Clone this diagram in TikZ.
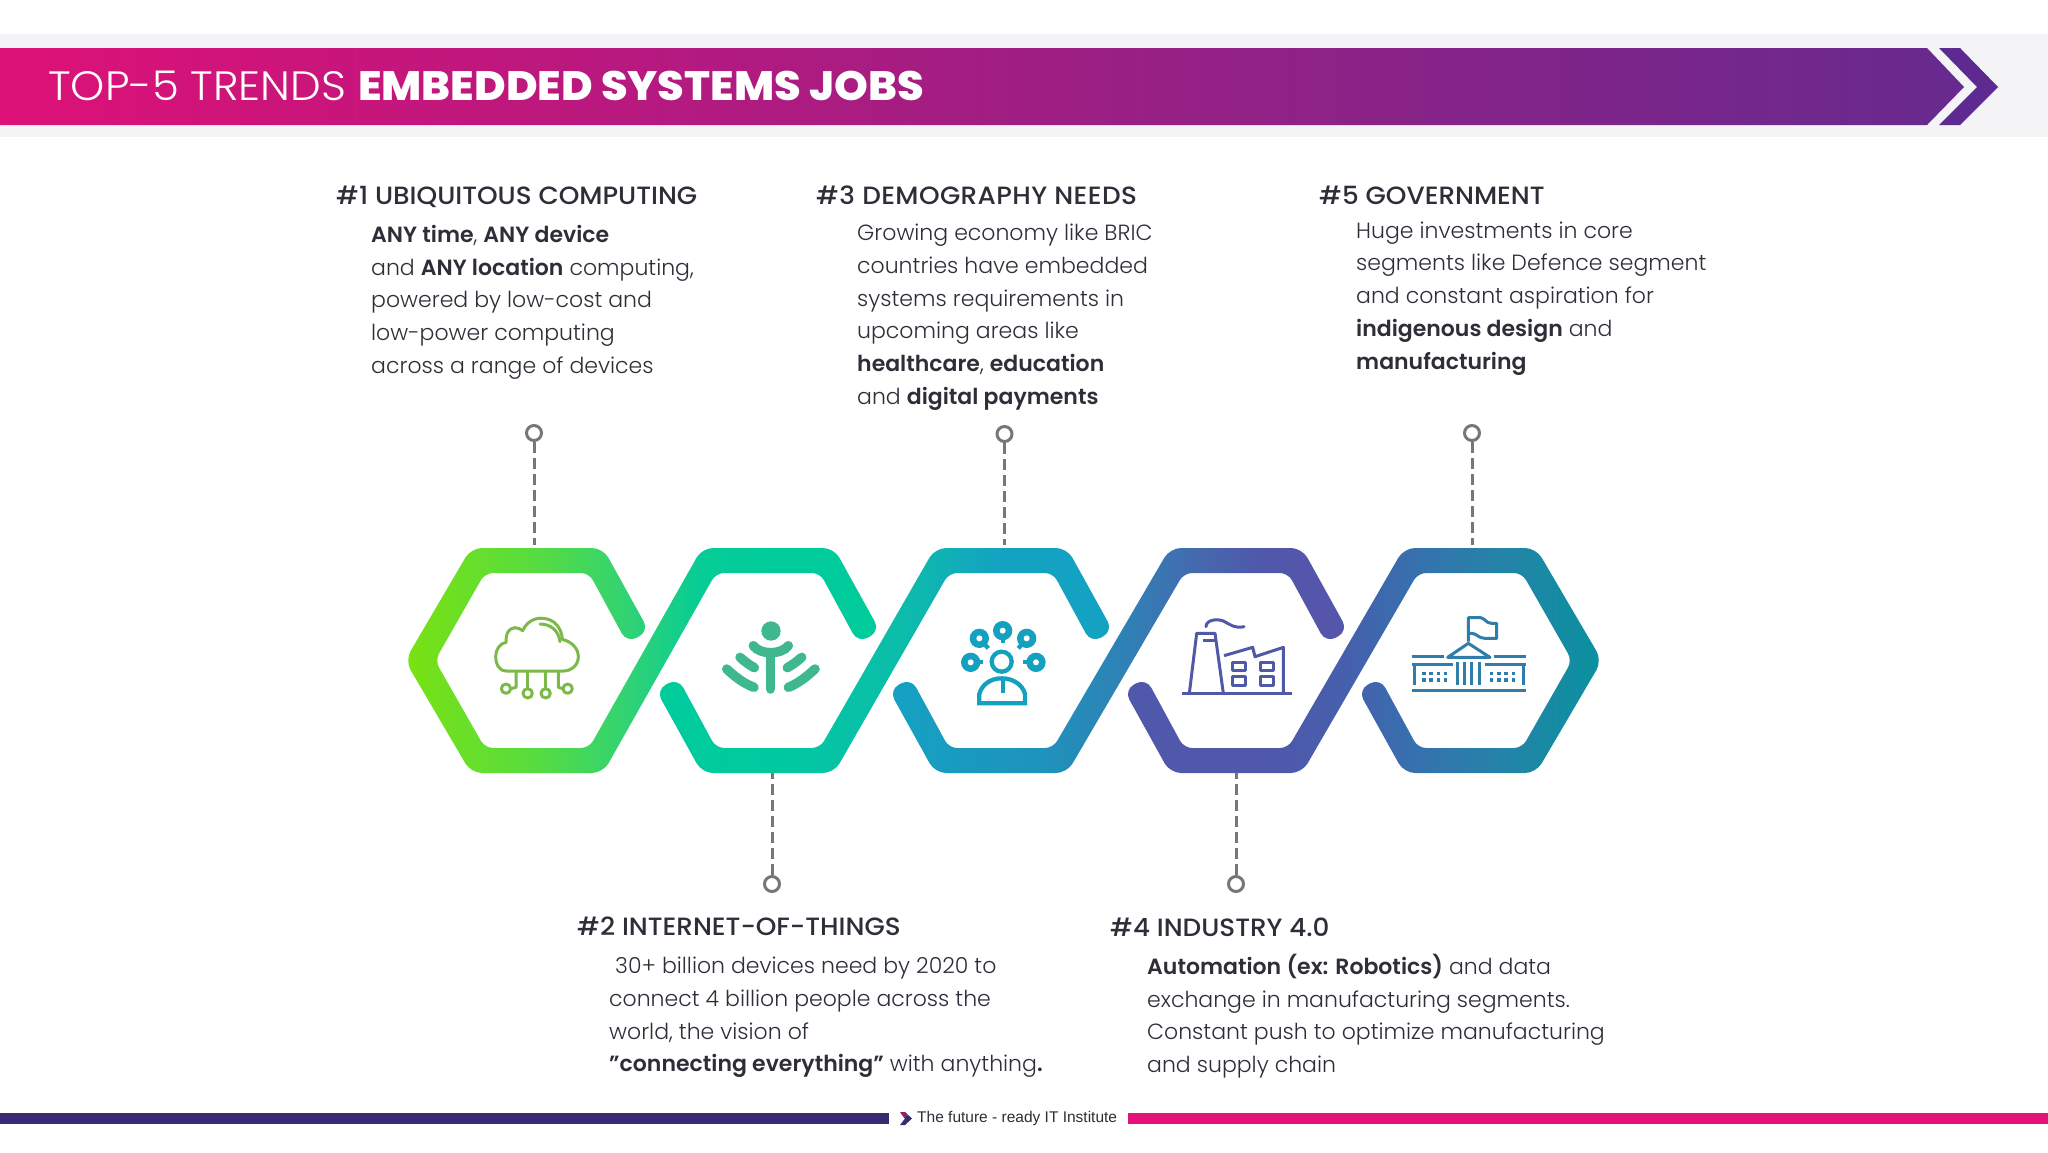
\documentclass[tikz,border=0pt]{standalone}
\usepackage{fontspec}
\setmainfont{Poppins Light}[BoldFont={Poppins SemiBold},FakeStretch=1.0]
\newfontfamily\headfont{Poppins Medium}[FakeStretch=1.05]
\newfontfamily\titlelight{Poppins Light}[FakeStretch=1.06]
\newfontfamily\titlebold{Poppins ExtraBold}[FakeStretch=1.05]
\newfontfamily\footfont{Liberation Sans}
\definecolor{greenA}{HTML}{7AE210}\definecolor{greenB}{HTML}{58DC40}\definecolor{greenC}{HTML}{2FD276}
\definecolor{tealA}{HTML}{07CC96}\definecolor{tealB}{HTML}{00CC9B}\definecolor{tealC}{HTML}{00C9A0}\definecolor{tealD}{HTML}{0CBDAA}
\definecolor{blueA}{HTML}{14A2C3}\definecolor{blueB}{HTML}{1E93BC}\definecolor{blueC}{HTML}{3080B5}\definecolor{blueD}{HTML}{4668AE}
\definecolor{violetA}{HTML}{5058AB}\definecolor{violetB}{HTML}{5555AB}\definecolor{violetC}{HTML}{4560AD}
\definecolor{steelA}{HTML}{3572AE}\definecolor{steelB}{HTML}{2583A8}\definecolor{steelC}{HTML}{0A919F}
\definecolor{inkdark}{HTML}{2E2E38}\definecolor{linegray}{HTML}{77777B}
\definecolor{stripgray}{HTML}{F4F3F5}
\definecolor{pinkA}{HTML}{DD1177}\definecolor{plumA}{HTML}{A31C80}\definecolor{plumB}{HTML}{672A8E}\definecolor{plumC}{HTML}{5C2A90}
\definecolor{navybar}{HTML}{3A2A72}\definecolor{pinkbar}{HTML}{E5127A}\definecolor{chevred}{HTML}{8E1F6C}
\definecolor{icongreen}{HTML}{7CB84A}\definecolor{iconteal}{HTML}{3FB890}\definecolor{iconblue}{HTML}{14A0BF}\definecolor{iconviolet}{HTML}{5058A8}\definecolor{iconsteel}{HTML}{2E7DAB}
\pgfdeclarehorizontalshading{pieceA}{100bp}{color(0bp)=(greenA);color(35bp)=(greenA);color(38.35bp)=(greenB);color(40.8bp)=(greenC);color(42.5bp)=(tealA);color(44.25bp)=(tealB);color(100bp)=(tealB)}
\pgfdeclarehorizontalshading{pieceB}{100bp}{color(0bp)=(tealB);color(41.5bp)=(tealB);color(44.5bp)=(tealC);color(47.5bp)=(tealD);color(50bp)=(blueA);color(100bp)=(blueA)}
\pgfdeclarehorizontalshading{pieceC}{100bp}{color(0bp)=(blueA);color(47.25bp)=(blueA);color(51bp)=(blueB);color(53.25bp)=(blueC);color(55bp)=(blueD);color(56.5bp)=(violetA);color(58bp)=(violetB);color(100bp)=(violetB)}
\pgfdeclarehorizontalshading{pieceD}{100bp}{color(0bp)=(violetA);color(56.75bp)=(violetA);color(58.75bp)=(violetC);color(60.5bp)=(steelA);color(62.5bp)=(steelB);color(65bp)=(steelC);color(100bp)=(steelC)}
\tikzset{
  headtxt/.style={font=\headfont\fontsize{25}{30}\selectfont,text=inkdark,anchor=base west,inner sep=0pt},
  bodytxt/.style={font=\fontsize{22}{32.7}\selectfont,text=inkdark,anchor=north west,align=left,inner sep=0pt},
  dotnode/.style={circle,draw=linegray,line width=3pt,fill=white,minimum size=15pt,inner sep=0pt},
  leader/.style={draw=linegray,line width=3pt,dash pattern=on 11pt off 5pt},
  iconline/.style={line width=3pt,line join=round},
  zoomat/.style={shift={(#1)},x=0.33333pt,y=-0.33333pt},
}
\def\cA{537}\def\cB{768}\def\cC{1001}\def\cD{1236}\def\cE{1470}
\def\ro{11}\def\ri{8}
\def\ao{66}\def\ai{52}\def\vo{132}\def\vi{102}
\begin{document}
\begin{tikzpicture}[x=1pt,y=-1pt]
\useasboundingbox (0,0) rectangle (2048,1152);
\fill[white] (0,0) rectangle (2048,1152);
% header
\fill[stripgray] (0,34) rectangle (2048,137);
\shade[left color=pinkA,middle color=plumA,right color=plumB] (0,48) -- (1927,48) -- (1964,87) -- (1927,125) -- (0,125) -- cycle;
\fill[plumC] (1939,48) -- (1960,48) -- (1998,87) -- (1960,125) -- (1939,125) -- (1977,87) -- cycle;
\node[anchor=west,inner sep=0pt,text=white,font=\fontsize{41}{48}\selectfont] (title) at (48,86) {{\titlelight TOP-5 TRENDS }{\titlebold EMBEDDED SYSTEMS JOBS}};
% ribbon pieces
\begin{scope}
\clip (\cA,548) [rounded corners=\ro pt] -- (\cA+\ao,548) -- (\cA+112,631) -- (\cA+90,643) [rounded corners=\ri pt] -- (\cA+\ai,573) -- (\cA-\ai,573) -- (\cA-\vi,660.5) -- (\cA-\ai,748) -- (\cA+\ai,748) [rounded corners=\ro pt] -- (\cB-\ao,548) -- (\cB+\ao,548) -- (\cB+112,631) -- (\cB+90,643) [rounded corners=\ri pt] -- (\cB+\ai,573) -- (\cB-\ai,573) [rounded corners=\ro pt] -- (\cA+\ao,773) -- (\cA-\ao,773) -- (\cA-\vo,660.5) -- (\cA-\ao,548) -- cycle;
\shade[shading=pieceA] (0,500) rectangle (2000,800);
\end{scope}
\begin{scope}
\clip (\cB,773) [rounded corners=\ro pt] -- (\cB+\ao,773) [rounded corners=\ri pt] -- (\cC-\ai,573) -- (\cC+\ai,573) [rounded corners=\ro pt] -- (\cC+90,643) -- (\cC+112,631) -- (\cC+\ao,548) -- (\cC-\ao,548) [rounded corners=\ri pt] -- (\cB+\ai,748) -- (\cB-\ai,748) [rounded corners=\ro pt] -- (\cB-90,678) -- (\cB-112,690) -- (\cB-\ao,773) -- cycle;
\shade[shading=pieceB] (0,500) rectangle (2000,800);
\end{scope}
\begin{scope}
\clip (\cC,773) [rounded corners=\ro pt] -- (\cC+\ao,773) [rounded corners=\ri pt] -- (\cD-\ai,573) -- (\cD+\ai,573) [rounded corners=\ro pt] -- (\cD+90,643) -- (\cD+112,631) -- (\cD+\ao,548) -- (\cD-\ao,548) [rounded corners=\ri pt] -- (\cC+\ai,748) -- (\cC-\ai,748) [rounded corners=\ro pt] -- (\cC-90,678) -- (\cC-112,690) -- (\cC-\ao,773) -- cycle;
\shade[shading=pieceC] (0,500) rectangle (2000,800);
\end{scope}
\begin{scope}
\clip (\cD,773) [rounded corners=\ro pt] -- (\cD+\ao,773) [rounded corners=\ri pt] -- (\cE-\ai,573) -- (\cE+\ai,573) -- (\cE+\vi,660.5) -- (\cE+\ai,748) -- (\cE-\ai,748) [rounded corners=\ro pt] -- (\cE-90,678) -- (\cE-112,690) -- (\cE-\ao,773) -- (\cE+\ao,773) -- (\cE+\vo,660.5) -- (\cE+\ao,548) -- (\cE-\ao,548) [rounded corners=\ri pt] -- (\cD+\ai,748) -- (\cD-\ai,748) [rounded corners=\ro pt] -- (\cD-90,678) -- (\cD-112,690) -- (\cD-\ao,773) -- cycle;
\shade[shading=pieceD] (0,500) rectangle (2000,800);
\end{scope}
% leaders
\coordinate (hextopA) at (534,545);
\coordinate (hexbotB) at (772,773);
\coordinate (hextopC) at (1004.5,545);
\coordinate (hexbotD) at (1236,773);
\coordinate (hextopE) at (1472,545);
\node[dotnode] (dotA) at (534,433) {};
\node[dotnode] (dotB) at (772,884) {};
\node[dotnode] (dotC) at (1004.5,434) {};
\node[dotnode] (dotD) at (1236,884) {};
\node[dotnode] (dotE) at (1472,433) {};
\path[leader] (dotA) -- (hextopA);
\path[leader] (dotB) -- (hexbotB);
\path[leader] (dotC) -- (hextopC);
\path[leader] (dotD) -- (hexbotD);
\path[leader] (dotE) -- (hextopE);
% cloud icon
\begin{scope}[zoomat={480,600},icongreen,iconline]
\draw (80,213) .. controls (55,213) and (47,190) .. (47,170) .. controls (47,148) and (60,130) .. (78,127) .. controls (78,100) and (85,85) .. (105,83) .. controls (115,83) and (122,88) .. (128,92) .. controls (140,65) and (165,52) .. (190,55) .. controls (225,58) and (245,85) .. (247,118) .. controls (275,125) and (295,145) .. (295,170) .. controls (295,195) and (275,213) .. (250,213) -- cycle;
\draw[line cap=round] (180,72) .. controls (212,72) and (236,92) .. (240,125);
\draw (108,213) -- (108,262) -- (92,266);
\draw (143,213) -- (143,266);
\draw (197,213) -- (197,266);
\draw (235,213) -- (235,262) -- (249,266);
\draw (78,266) circle[radius=14];
\draw (143,280) circle[radius=14];
\draw (197,280) circle[radius=14];
\draw (263,266) circle[radius=14];
\end{scope}
% network person icon
\begin{scope}[zoomat={700,600},iconteal,line width=9.5pt,line cap=round]
\fill (213,93) circle[radius=29];
\draw (160,137) .. controls (180,165) and (245,165) .. (265,137);
\draw (211,165) -- (211,267);
\draw (120,172) .. controls (135,185) and (148,195) .. (163,203);
\draw (305,172) .. controls (290,185) and (277,195) .. (262,203);
\draw (80,207) .. controls (105,230) and (130,250) .. (162,262);
\draw (345,207) .. controls (320,230) and (295,250) .. (265,262);
\end{scope}
% head with satellites icon
\begin{scope}[zoomat={940,610},iconblue,line width=4.3pt]
\draw (185,155) circle[radius=30];
\draw (118,280) -- (118,252) .. controls (125,225) and (150,205) .. (185,205) .. controls (220,205) and (248,225) .. (255,252) -- (255,280) -- cycle;
\draw (188,210) -- (188,250);
\foreach \kx/\ky/\ex/\ey in {92/157/130/157,188/62/188/100,118/85/145/115,260/85/235/115,288/157/250/157}{
  \draw (\kx,\ky) -- (\ex,\ey);
  \fill (\kx,\ky) circle[radius=29];
  \fill[white] (\kx,\ky) circle[radius=9];
}
\end{scope}
% factory icon
\begin{scope}[zoomat={1170,605},iconviolet,iconline]
\draw[line cap=round] (108,65) .. controls (108,45) and (140,40) .. (160,48) .. controls (180,58) and (195,72) .. (222,65);
\draw (58,265) -- (80,85) -- (135,85) -- (160,265);
\draw (100,105) -- (135,105);
\draw (35,265) -- (365,265);
\draw (162,152) -- (248,127) -- (255,155) -- (340,127) -- (340,265);
\foreach \wx/\wy in {188/172,272/172,188/215,272/215}{\draw (\wx,\wy) rectangle ++(38,25);}
\end{scope}
% government building icon
\begin{scope}[zoomat={1400,605},iconsteel,iconline]
\draw (205,110) -- (205,38) -- (242,38) .. controls (255,40) and (258,55) .. (275,55) -- (290,55) -- (290,100) -- (255,100) .. controls (235,100) and (230,85) .. (215,85) -- (205,85);
\draw (143,157) -- (205,115) -- (270,157) -- cycle;
\draw (35,155) -- (132,155);
\draw (282,155) -- (378,155);
\draw (35,177) -- (158,177);
\draw (255,177) -- (378,177);
\foreach \colx in {172,193,215,238}{\draw (\colx,172) -- (\colx,240);}
\draw (43,180) -- (43,240);
\draw (370,180) -- (370,240);
\draw (35,257) -- (378,257);
\foreach \dy in {205,225}{\foreach \dx in {72,93,115,137,275,297,318,340}{\fill (\dx-5,\dy-5) rectangle ++(10,10);}}
\end{scope}
% texts
\node[headtxt] (headA) at (336,204.5) {\#1 UBIQUITOUS COMPUTING};
\node[headtxt] (headC) at (816,204.5) {\addfontfeature{LetterSpace=1.6}\#3 DEMOGRAPHY NEEDS};
\node[headtxt] (headE) at (1319,204.5) {\#5 GOVERNMENT};
\node[headtxt] (headB) at (577,935.5) {\#2 INTERNET-OF-THINGS};
\node[headtxt] (headD) at (1110,936) {\#4 INDUSTRY 4.0};
\node[bodytxt] (bodyA) at (371,225) {\textbf{ANY time}, \textbf{ANY device}\\and \textbf{ANY location} computing,\\powered by low-cost and\\low-power computing\\across a range of devices};
\node[bodytxt] (bodyC) at (857,224) {Growing economy like BRIC\\countries have embedded\\systems requirements in\\upcoming areas like\\\textbf{healthcare}, \textbf{education}\\and \textbf{digital payments}};
\node[bodytxt] (bodyE) at (1356,221.5) {Huge investments in core\\segments like Defence segment\\and constant aspiration for\\\textbf{indigenous design} and\\\textbf{manufacturing}};
\node[bodytxt] (bodyB) at (609,957) {\hspace*{6pt}30+ billion devices need by 2020 to\\connect 4 billion people across the\\world, the vision of\\\textbf{"connecting everything”} with anything\textbf{.}};
\node[bodytxt] (bodyD) at (1147,954) {\textbf{Automation (ex: Robotics)} and data\\exchange in manufacturing segments.\\Constant push to optimize manufacturing\\and supply chain};
% footer
\fill[navybar] (0,1113) rectangle (889,1124);
\fill[pinkbar] (1128,1113) rectangle (2048,1124);
\fill[navybar] (908.5,1115.2) -- (912,1118.5) -- (905,1125) -- (900,1125) -- (905,1118.5) -- (903.5,1117) -- cycle;
\fill[chevred] (900,1112) -- (905,1112) -- (908.5,1115.2) -- (903.5,1117) -- cycle;
\node[anchor=west,inner sep=0pt,text=inkdark,font=\footfont\fontsize{15.5}{20}\selectfont] (foot) at (917,1118) {The future - ready IT Institute};
\end{tikzpicture}
\end{document}
